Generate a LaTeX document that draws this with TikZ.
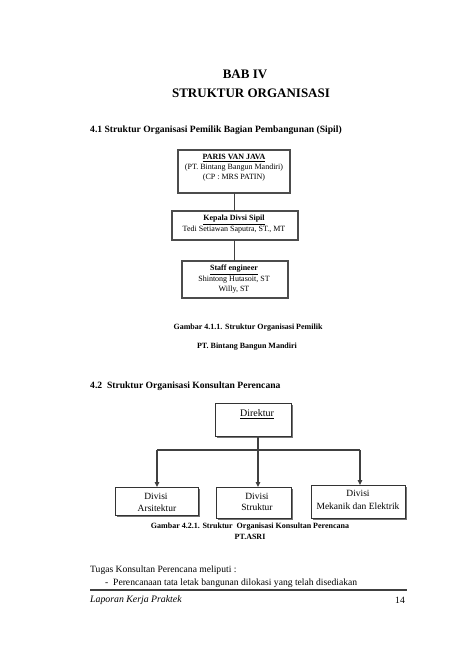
\documentclass[tikz,border=0pt]{standalone}
\usepackage{fontspec}
\setmainfont{Liberation Serif}
\usetikzlibrary{arrows.meta}
\begin{document}
\begin{tikzpicture}[x=1pt,y=-1pt,
  boxthick/.style={draw=black!70,line width=1.8pt,fill=white},
  boxthin/.style={draw=black!80,line width=0.6pt,fill=white},
  shadowbox/.style={fill=black!55},
  txt/.style={inner sep=0pt,anchor=center},
  boxfont/.style={font=\fontsize{8}{9.5}\selectfont},
  boxbold/.style={font=\bfseries\fontsize{8}{9.5}\selectfont},
  capfont/.style={font=\bfseries\fontsize{8}{9.5}\selectfont},
  divfont/.style={font=\fontsize{9.5}{11}\selectfont},
  bodyfont/.style={font=\fontsize{9.6}{11.5}\selectfont},
  link/.style={draw=black!75,line width=0.8pt},
  arr/.style={draw=black!75,line width=1.1pt,-{Triangle[length=5pt,width=4.5pt]}}]
\useasboundingbox[fill=white] (0,0) rectangle (474,669);
% titles
\node[txt,font=\bfseries\fontsize{13}{15}\selectfont] (bab) at (245,74) {BAB IV};
\node[txt,font=\bfseries\fontsize{13}{15}\selectfont] (judul) at (251,93) {STRUKTUR ORGANISASI};
\node[txt,anchor=west,font=\bfseries\fontsize{9.6}{12}\selectfont] (h41) at (90,130) {4.1 Struktur Organisasi Pemilik Bagian Pembangunan (Sipil)};
% section 4.1 boxes
\draw[boxthick] (178,150) rectangle (290,193);
\coordinate (b1top) at (234,150); \coordinate (b1bot) at (234,193);
\node[txt,boxbold] (b1a) at (234,158) {\underline{PARIS VAN JAVA}};
\node[txt,boxfont] (b1b) at (234,168) {(PT. Bintang Bangun Mandiri)};
\node[txt,boxfont] (b1c) at (234,178) {(CP : MRS PATIN)};
\draw[boxthick] (172,211) rectangle (298,240);
\coordinate (b2top) at (234,211); \coordinate (b2bot) at (234,240);
\node[txt,boxbold] (b2a) at (234,220) {\underline{Kepala Divsi Sipil}};
\node[txt,boxfont] (b2b) at (234,230) {Tedi Setiawan Saputra, ST., MT};
\draw[boxthick] (182,261) rectangle (288,298);
\coordinate (b3top) at (234,261);
\node[txt,boxbold] (b3a) at (234,270) {\underline{Staff engineer}};
\node[txt,boxfont] (b3b) at (234,280) {Shintong Hutasoit, ST};
\node[txt,boxfont] (b3c) at (234,290) {Willy, ST};
\draw[link] (b1bot) -- (b2top);
\draw[link] (b2bot) -- (b3top);
\node[txt,capfont] (cap1) at (248,328) {Gambar 4.1.1. Struktur Organisasi Pemilik};
\node[txt,capfont] (cap1b) at (247,347) {PT. Bintang Bangun Mandiri};
% section 4.2
\node[txt,anchor=west,font=\bfseries\fontsize{9.6}{12}\selectfont] (h42) at (90,386) {4.2\ \ Struktur Organisasi Konsultan Perencana};
\fill[shadowbox] (217,405) rectangle (293,438);
\draw[boxthin] (215,403) rectangle (291,436);
\coordinate (dirbot) at (258,436);
\node[txt,font=\fontsize{10}{12}\selectfont] (dir) at (257,414) {\underline{Direktur}};
\fill[shadowbox] (117,489) rectangle (200,517);
\draw[boxthin] (115,487) rectangle (198,515);
\node[txt,divfont] (ars1) at (156,496) {Divisi};
\node[txt,divfont] (ars2) at (157,508) {Arsitektur};
\fill[shadowbox] (218,489) rectangle (293,520);
\draw[boxthin] (216,487) rectangle (291,518);
\node[txt,divfont] (str1) at (257,496) {Divisi};
\node[txt,divfont] (str2) at (257,507) {Struktur};
\fill[shadowbox] (313,487) rectangle (407,520);
\draw[boxthin] (311,485) rectangle (405,518);
\node[txt,divfont] (mek1) at (358,493) {Divisi};
\node[txt,divfont] (mek2) at (358,506) {Mekanik dan Elektrik};
\coordinate (jl) at (157,450); \coordinate (jr) at (360,450);
\coordinate (ta) at (157,487); \coordinate (ts) at (258,487); \coordinate (tm) at (360,485);
\draw[link,line width=1.1pt] (jl) -- (jr);
\draw[arr] (jl) -- (ta);
\draw[arr] (dirbot) -- (ts);
\draw[arr] (jr) -- (tm);
\node[txt,capfont] (cap2) at (250,527) {Gambar 4.2.1. Struktur\ \ Organisasi Konsultan Perencana};
\node[txt,capfont] (cap2b) at (250,537) {PT.ASRI};
% body
\node[txt,anchor=west,bodyfont] (tugas) at (90,570) {Tugas Konsultan Perencana meliputi :};
\node[txt,anchor=west,bodyfont] (item) at (105,583) {-\ \ Perencanaan tata letak bangunan dilokasi yang telah disediakan};
\coordinate (rl) at (90,590); \coordinate (rr) at (407,590);
\draw[draw=black!75,line width=1.3pt] (rl) -- (rr);
\node[txt,anchor=west,font=\itshape\fontsize{9.8}{11.5}\selectfont] (foot) at (90,600) {Laporan Kerja Praktek};
\node[txt,anchor=east,bodyfont] (page) at (405,600) {14};
\end{tikzpicture}
\end{document}
